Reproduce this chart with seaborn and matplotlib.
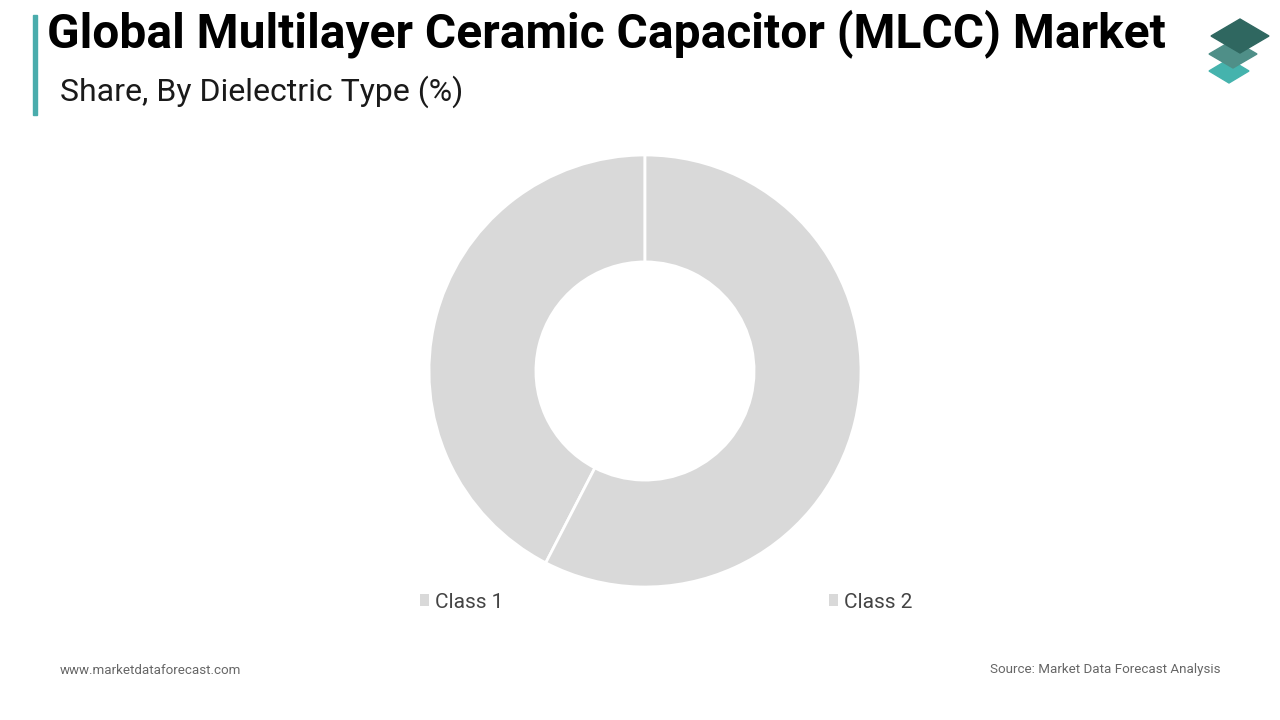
import matplotlib.pyplot as plt
import seaborn as sns
from matplotlib.patches import Polygon, Rectangle

# data
categories = ["Class 1", "Class 2"]
shares = [42.4, 57.6]
slice_colors = ["#d9d9d9", "#d9d9d9"]

title = "Global Multilayer Ceramic Capacitor (MLCC) Market"
subtitle = "Share, By Dielectric Type (%)"
footer_left = "www.marketdataforecast.com"
footer_right = "Source: Market Data Forecast Analysis"

sns.set_theme(style="white")
plt.rcParams["font.family"] = ["Roboto", "DejaVu Sans"]

W, H = 1280, 720
fig = plt.figure(figsize=(12.8, 7.2), dpi=100)
fig.patch.set_facecolor("white")

# donut: centre (645, 371), outer radius 216 px
cx, cy, r = 645, 371, 216
ax = fig.add_axes([(cx - r) / W, (H - cy - r) / H, 2 * r / W, 2 * r / H])
wedges, _ = ax.pie(
    shares,
    colors=slice_colors,
    startangle=90,
    counterclock=True,
    radius=1.0,
    wedgeprops=dict(width=0.495, edgecolor="white", linewidth=2),
)
ax.set_xlim(-1, 1)
ax.set_ylim(-1, 1)
ax.set_aspect("equal")
ax.axis("off")

leg = fig.legend(
    wedges, categories,
    loc="center", bbox_to_anchor=(666 / W, 1 - 602 / H),
    ncol=2, frameon=False, fontsize=15,
    handlelength=0.45, handleheight=0.45, handletextpad=0.3,
    columnspacing=15.6, labelcolor="#444444",
)
for h in leg.legend_handles:
    h.set_edgecolor("none")

# header
fig.patches.append(Rectangle((33 / W, 1 - 115 / H), 4 / W, 100 / H,
                             transform=fig.transFigure, color="#4aacac"))
fig.text(47 / W, 1 - 34 / H, title, fontsize=34.5, fontweight="bold",
         color="#000000", va="center", ha="left")
fig.text(60 / W, 1 - 92 / H, subtitle, fontsize=23, color="#1a1a1a",
         va="center", ha="left")

# logo: three stacked tiles
def tile(xc, yc, w, h, color):
    pts = [(xc - w / 2, yc), (xc, yc - h / 2), (xc + w / 2, yc), (xc, yc + h / 2)]
    pts = [(x / W, 1 - y / H) for x, y in pts]
    fig.patches.append(Polygon(pts, closed=True, transform=fig.transFigure,
                               color=color))

tile(1229, 71, 40, 24, "#45b3ad")
tile(1233, 54, 48, 28, "#4f8f88")
tile(1240, 36, 58, 34, "#2f6760")

# footer
fig.text(60 / W, 1 - 670 / H, footer_left, fontsize=9.6, color="#666666",
         va="center", ha="left")
fig.text(1220 / W, 1 - 670 / H, footer_right, fontsize=9.6, color="#666666",
         va="center", ha="right")

fig.savefig("out.png", dpi=100, facecolor="white")
